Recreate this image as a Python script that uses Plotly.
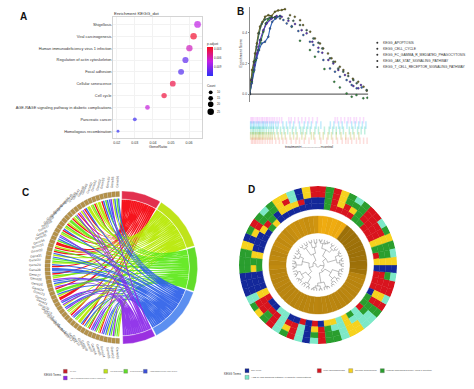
import numpy as np
import plotly.graph_objects as go

W, H = 474, 389
FONT = "Liberation Sans"

# ---------- Panel A data ----------
pathways = ["Shigellosis", "Viral carcinogenesis", "Human immunodeficiency virus 1 infection",
            "Regulation of actin cytoskeleton", "Focal adhesion", "Cellular senescence", "Cell cycle",
            "AGE-RAGE signaling pathway in diabetic complications", "Pancreatic cancer",
            "Homologous recombination"]
gene_ratio = [0.0647, 0.0625, 0.0602, 0.058, 0.0556, 0.051, 0.0462, 0.037, 0.03, 0.0207]
p_adjust = [0.0072, 0.003, 0.0062, 0.0102, 0.0106, 0.0035, 0.0033, 0.0069, 0.0112, 0.0116]
counts = [26, 25, 24, 23, 22, 21, 19, 15, 10, 5]
count_legend = [10, 15, 20, 25]
p_ticks = [0.003, 0.006, 0.009]
ratio_ticks = [0.02, 0.03, 0.04, 0.05, 0.06]

# ---------- Panel B data ----------
gsea_names = ["KEGG_APOPTOSIS", "KEGG_CELL_CYCLE", "KEGG_FC_GAMMA_R_MEDIATED_PHAGOCYTOSIS",
              "KEGG_JAK_STAT_SIGNALING_PATHWAY", "KEGG_T_CELL_RECEPTOR_SIGNALING_PATHWAY"]
rank_1 = [0, 1, 2, 3.4, 4.5, 6, 7.3, 8.7, 10.7, 13, 15.7, 18.5, 21.3, 24, 27, 29.8, 34, 38, 42.5, 45, 51, 55, 59.3, 62, 66, 69, 72, 76, 79, 83, 87, 91.5, 96, 98.7]
es_1 = [0.004, 0.09, 0.157, 0.21, 0.265, 0.33, 0.396, 0.44, 0.47, 0.505, 0.515, 0.51, 0.537, 0.546, 0.548, 0.554, 0.515, 0.504, 0.482, 0.45, 0.407, 0.363, 0.33, 0.298, 0.265, 0.233, 0.211, 0.178, 0.157, 0.135, 0.1, 0.08, 0.048, 0.022]
rank_2 = [0, 1.7, 3.1, 5, 7.3, 9.6, 11.5, 13.5, 15.7, 18.5, 21.3, 25.6, 35.4, 42.4, 50.8, 55, 63, 71.3, 76, 81.7, 86, 90, 95.8, 99.2]
es_2 = [0, 0.08, 0.146, 0.22, 0.287, 0.352, 0.407, 0.46, 0.487, 0.5, 0.5, 0.509, 0.439, 0.348, 0.287, 0.244, 0.163, 0.08, 0.043, 0.004, -0.017, -0.007, -0.028, -0.024]
rank_3 = [0, 1.7, 3.9, 5.9, 7.9, 10.1, 12.9, 15.7, 17.1, 19, 21.9, 25.6, 28.4, 31.2, 35.4, 41, 45.2, 50.8, 53.7, 57.9, 62.1, 67.7, 71.9, 76.1, 81.7, 86, 90.2, 94.4]
es_3 = [0, 0.07, 0.157, 0.233, 0.287, 0.33, 0.341, 0.374, 0.428, 0.472, 0.493, 0.509, 0.483, 0.461, 0.443, 0.411, 0.385, 0.341, 0.32, 0.276, 0.222, 0.167, 0.146, 0.113, 0.091, 0.059, 0.037, 0.043]
rank_4 = [0, 1.7, 3.9, 6.2, 8.7, 11.5, 14.3, 18.5, 22.7, 27, 32.6, 38.2, 43.8, 48, 52.8, 57.9, 61.2, 66.3, 70.5, 74.7, 80.3, 84.6, 87.4, 91.6, 93.8]
es_4 = [0, 0.091, 0.189, 0.265, 0.352, 0.417, 0.461, 0.493, 0.509, 0.504, 0.478, 0.457, 0.417, 0.396, 0.341, 0.302, 0.27, 0.222, 0.2, 0.157, 0.124, 0.08, 0.052, 0.037, 0.059]
rank_5 = [0, 1.7, 3.9, 5.9, 7.9, 10.1, 12.9, 17.1, 21.3, 25.6, 32.6, 36.8, 42.4, 48, 53.7, 57.9, 61.2, 67.7, 70.5, 74.7, 78.9, 83.1, 87.4, 90.2, 98.6]
es_5 = [0, 0.102, 0.211, 0.309, 0.396, 0.457, 0.487, 0.5, 0.5, 0.493, 0.493, 0.478, 0.45, 0.417, 0.363, 0.335, 0.298, 0.233, 0.211, 0.167, 0.146, 0.117, 0.091, 0.07, 0.026]
gsea_peak_index = [15, 11, 11, 8, 8]
gsea_colors = ["#6e6a24", "#2f8f3c", "#2f62b8", "#5a30c0", "#3e6a5a"]
rug_colors = ["231,107,243", "0,176,246", "0,191,125", "163,165,0", "248,118,109"]
hits_1 = [1, 2, 3, 4.5, 6, 7, 8.5, 10, 11, 12.5, 14, 15, 16.5, 18, 19.5, 21, 23, 25, 27, 33, 35, 38, 41, 44, 47, 50, 53, 57, 72, 74, 77, 80, 83, 85, 88, 90, 93, 96]
hits_2 = [0.5, 1.5, 3, 4, 5.5, 7, 8, 9.5, 11, 12, 13.5, 15, 17, 18.5, 20, 22, 24, 28, 31, 34, 37, 42, 46, 49, 52, 56, 60, 68, 71, 75, 78, 82, 86, 89, 92, 95, 98]
hits_3 = [1, 2.5, 3.5, 5, 6.5, 8, 9, 10.5, 12, 14, 16, 18, 20, 23, 26, 29, 32, 36, 39, 43, 45, 48, 51, 55, 58, 63, 67, 70, 73, 76, 79, 84, 87, 91, 94, 97]
hits_4 = [0.5, 2, 3, 4.5, 5.5, 7, 8, 9, 10.5, 11.5, 13, 14.5, 16, 17.5, 19, 21, 24, 27, 30, 34, 37, 40, 44, 47, 52, 54, 59, 62, 66, 69, 73, 77, 81, 85, 88, 92]
hits_5 = [1.5, 2.5, 4, 5, 6.5, 8, 9.5, 11, 13, 15, 17, 19, 22, 25, 28, 31, 35, 39, 42, 46, 50, 55, 60, 65, 70, 74, 78, 81, 83, 86, 90, 93, 96, 99]

# ---------- Panel C data ----------
term_names = ["Cell cycle", "Viral carcinogenesis", "Cellular senescence",
              "Human immunodeficiency virus 1 infection",
              "AGE-RAGE signaling pathway in diabetic complications"]
term_keys = ["R", "L", "G", "B", "P"]
term_fill = ["rgba(244,0,10,0.92)", "rgba(182,232,0,0.92)", "rgba(92,232,24,0.92)", "rgba(44,96,232,0.92)", "rgba(138,40,232,0.92)"]
term_band = ["#e2304e", "#bfe31a", "#62dc2a", "#5c8ff0", "#9a30e0"]
gene_terms = ["LG", "GP", "GB", "LB", "BP", "RL", "GP", "BP", "RG", "LB", "RB", "L", "LG", "BP", "RL", "LG",
              "PB", "LP", "BP", "R", "LB", "G", "RP", "LB", "BP", "LG", "RB", "B", "RB", "LG", "GB", "LB",
              "RG", "RL", "R", "GB", "BP", "LG", "RB", "LG", "RL", "G", "RL", "GP", "RP", "LP", "RB", "L",
              "LG", "RL", "L", "RB", "GB", "BP", "LB", "GB"]
gene_labels = ["Gene%02d" % (i + 1) for i in range(len(gene_terms))]

# ---------- Panel D data ----------
ring_cells = ["RRBB", "GGGG", "RRRR", "YYYR", "GGRR", "AGYR", "GGGG", "RRRG", "RRRR", "ARRR",
              "GRRR", "YYYY", "GGGG", "AGGR", "YYYY", "BBBB", "AGRR", "RRRR", "RRRR", "AYYB",
              "RRRG", "GGGG", "AAGR", "AAAA", "YYAG", "YYYY", "AAAA", "GGAY", "GGGY", "RRRB",
              "AGYR", "BBBB", "AAAR", "RRRB", "GYRB", "AAAA", "RRRA", "GGRB", "YRRB", "GRRR",
              "AAYY", "BBBB", "BBBB", "BBBB", "GGYG", "GGGG", "GGYY", "YYBB", "BBBB", "GYBB",
              "RRYB", "GGRG", "AGGY", "GGBB", "YYYB", "YRYB", "AAYB", "BBRB", "YYBB", "RRBB"]
cell_colors = {"R": "#d8141e", "B": "#14289a", "Y": "#f6d21e", "G": "#2a9e2e", "A": "#7de8c8"}
gold_values = [0.95, 1, 0.95, 1, 0.95, 1, 0, 0.05, 0, 0.05, 0, 0.05, 0, 0.05, 0, 0.05, 0.1, 0.45, 0.5, 0.45,
               0.5, 0.45, 0.5, 0.45, 0.5, 0.45, 0.5, 0.45, 0.5, 0.45, 0.5, 0.45, 0.5, 0.45, 0.5, 0.45, 0.5, 0.45, 0.5, 0.45,
               0.5, 0.45, 0.5, 0.45, 0.55, 0.5, 0.55, 0.5, 0.55, 0.6, 0.55, 0.6, 0.55, 0.6, 0.65, 0.6, 0.65, 0.6, 0.65, 0.7]
c1 = [17, [22, [24, 0, 1], [23, 2, [24.5, 3, 4]]], [21, [24, 5, 6], [23, 7, 8]]]
c2 = [19, [23, [24.5, 9, 10], 11], [22, [24, 12, 13], [23.5, 14, 15]]]
c3 = [15, [22, [24, 16, 17], [23, 18, 19]], [20, [23.5, 20, 21], [22.5, 22, [24.5, 23, 24]]]]
c4 = [18, [23, [24, 25, 26], 27], [21, [24, 28, 29], [23, 30, [24.5, 31, 32]]]]
c5 = [14, [21, [24, 33, 34], [23, 35, 36]], [19, [23, 37, [24, 38, 39]], [22, [24, 40, 41], 42]]]
c6 = [16, [22, [24, 43, 44], [23, 45, 46]], [20, [24, 47, 48], [23, 49, [24.5, 50, 51]]]]
c7 = [12, [21, [24, 52, 53], [23, 54, 55]], [18, [23.5, 56, 57], [22, 58, 59]]]
dendro = [2, [6, [10, c1, c2], [8, c3, c4]], [5, [9, c5, c6], c7]]

# ---------- helpers ----------
def px(x): return x / W
def py(y): return 1 - y / H
def dom_x(a, b): return [px(a), px(b)]
def dom_y(top, bottom): return [py(bottom), py(top)]

annotations, shapes = [], []
def label(x, y, text, size, color="#333", anchor="left", angle=0, xref="paper", yref="paper", conv=True):
    annotations.append(dict(x=px(x) if conv else x, y=py(y) if conv else y, xref=xref, yref=yref, text=text,
                            showarrow=False, xanchor=anchor, yanchor="middle", textangle=angle,
                            font=dict(family=FONT, size=size, color=color), borderpad=0, borderwidth=0))
def swatch(x, y, s, color, line="#555"):
    shapes.append(dict(type="rect", xref="paper", yref="paper", x0=px(x - s / 2), x1=px(x + s / 2), y0=py(y + s / 2), y1=py(y - s / 2),
                       fillcolor=color, line=dict(color=line, width=0.3)))
def dot(x, y, d, color):
    shapes.append(dict(type="circle", xref="paper", yref="paper", x0=px(x - d / 2), x1=px(x + d / 2), y0=py(y + d / 2), y1=py(y - d / 2),
                       fillcolor=color, line=dict(width=0)))
def size_of(c): return 2 + 0.18 * c

fig = go.Figure()

# ---------- Panel A ----------
fig.add_trace(go.Scatter(x=gene_ratio, y=pathways, mode="markers", hoverinfo="skip", showlegend=False,
                         marker=dict(size=[size_of(c) for c in counts], color=[-p for p in p_adjust], coloraxis="coloraxis", line=dict(width=0))))
label(114, 13.5, "Enrichment KEGG_dot", 4.4)
label(158, 147, "GeneRatio", 3.8, anchor="center")
label(207, 43.5, "p.adjust", 3.2)
label(207, 85.5, "Count", 3.2)
legend_y = [92.3, 98.3, 104.3, 111.7]
for c, y in zip(count_legend, legend_y):
    dot(210.7, y, size_of(c), "#000")
    label(217, y, str(c), 2.8)

# ---------- Panel B ----------
series = [(rank_1, es_1), (rank_2, es_2), (rank_3, es_3), (rank_4, es_4), (rank_5, es_5)]
for (r, e), col, k in zip(series, gsea_colors, gsea_peak_index):
    fig.add_trace(go.Scatter(x=r[:k + 1], y=e[:k + 1], mode="lines", xaxis="x2", yaxis="y2", hoverinfo="skip", showlegend=False,
                             line=dict(color=col, width=1.1)))
fig.add_trace(go.Scatter(x=[0, 100], y=[0, 0], mode="lines", xaxis="x2", yaxis="y2", hoverinfo="skip", showlegend=False,
                         line=dict(color="#6a6a6a", width=1.3)))
for (r, e), col in zip(series, gsea_colors):
    fig.add_trace(go.Scatter(x=r, y=e, mode="markers", xaxis="x2", yaxis="y2", hoverinfo="skip", showlegend=False,
                             marker=dict(color=col, size=2.0, line=dict(width=0.3, color="#222"))))
for i, (hits, col) in enumerate(zip([hits_1, hits_2, hits_3, hits_4, hits_5], rug_colors)):
    fig.add_trace(go.Scatter(x=hits, y=[i] * len(hits), mode="markers", xaxis="x3", yaxis="y3", hoverinfo="skip", showlegend=False,
                             marker=dict(symbol="line-ns", size=5.6, line=dict(color="rgba(%s,0.24)" % col, width=1.5))))
label(309, 147, "treatment&lt;----------------&gt;control", 3.5, color="#222", anchor="center")
label(240.5, 53, "Enrichment Score", 3.6, anchor="center", angle=-90)
for name, y in zip(gsea_names, [42.7, 48.7, 54.7, 61, 67]):
    dot(377.3, y, 2.0, "#333")
    label(382.5, y, name, 3.35)

# ---------- Panel C ----------
def pol(theta_deg, r):
    t = np.radians(theta_deg)
    return r * np.sin(t), r * np.cos(t)

n_genes = len(gene_terms)
term_counts = [sum(k in g for g in gene_terms) for k in term_keys]
span_total, gap = 178.0, 1.0
per_link = (span_total - gap * 4) / sum(term_counts)
term_start, a = [], 0.6
for c in term_counts:
    term_start.append(a)
    a += c * per_link + gap

gene_start, gene_step = 181.0, 178.0 / n_genes
def gene_theta(i): return gene_start + gene_step * (i + 0.5)

R_RIB_T, R_RIB_G = 68.0, 69.0
def ribbon(t0, t1, g0, g1):
    u = np.linspace(0, 1, 24)
    def arc(a0, a1, r):
        return pol(np.linspace(a0, a1, 5), r)
    def bez(p0, p1):
        return (1 - u) ** 2 * p0[0] + u ** 2 * p1[0], (1 - u) ** 2 * p0[1] + u ** 2 * p1[1]
    ax, ay = arc(t0, t1, R_RIB_T)
    bx, by = bez(pol(t1, R_RIB_T), pol(g0, R_RIB_G))
    cx, cy = arc(g0, g1, R_RIB_G)
    dx, dy = bez(pol(g1, R_RIB_G), pol(t0, R_RIB_T))
    return list(ax) + list(bx) + list(cx) + list(dx) + [None], list(ay) + list(by) + list(cy) + list(dy) + [None]

for ti, key in enumerate(term_keys):
    members = [i for i, g in enumerate(gene_terms) if key in g][::-1]
    X, Y = [], []
    for j, gi in enumerate(members):
        t0 = term_start[ti] + j * per_link
        t1 = t0 + per_link * 0.96
        g = gene_terms[gi]
        w = gene_step * 0.86 / len(g)
        s = gene_theta(gi) - gene_step * 0.43 + g.index(key) * w
        x, y = ribbon(t0, t1, s, s + w * 0.92)
        X += x
        Y += y
    fig.add_trace(go.Scatter(x=X, y=Y, mode="lines", fill="toself", fillcolor=term_fill[ti], line=dict(width=0),
                             xaxis="x4", yaxis="y4", hoverinfo="skip", showlegend=False))
    t_a = np.linspace(term_start[ti], term_start[ti] + term_counts[ti] * per_link, 40)
    xo, yo = pol(t_a, 76.6)
    xi, yi = pol(t_a[::-1], 68.5)
    fig.add_trace(go.Scatter(x=list(xo) + list(xi) + [xo[0]], y=list(yo) + list(yi) + [yo[0]], mode="lines", fill="toself",
                             fillcolor=term_band[ti], line=dict(width=0.3, color="#ffffff"),
                             xaxis="x4", yaxis="y4", hoverinfo="skip", showlegend=False))
bx, by = [], []
for i in range(n_genes):
    c = gene_theta(i)
    th = np.array([c - gene_step * 0.42, c + gene_step * 0.42, c + gene_step * 0.42, c - gene_step * 0.42, c - gene_step * 0.42])
    rr = np.array([71, 71, 76, 76, 71.0])
    x, y = pol(th, rr)
    bx += list(x) + [None]
    by += list(y) + [None]
fig.add_trace(go.Scatter(x=bx, y=by, mode="lines", fill="toself", fillcolor="#b5924a", line=dict(width=0.3, color="#8a6c30"),
                         xaxis="x4", yaxis="y4", hoverinfo="skip", showlegend=False))
for i, name in enumerate(gene_labels):
    th = gene_theta(i)
    x, y = pol(th, 86)
    label(float(x), float(y), name, 3.3, color="#555", anchor="center", angle=270 - th, xref="x4", yref="y4", conv=False)

label(44, 375, "KEGG Terms", 2.9, color="#333")
for name, col, x, y in zip(term_names, ["#c81e28", "#bfe31a", "#62dc2a", "#3c50d8", "#8a28e8"],
                           [65.3, 105.7, 125.7, 145.3, 65.3], [371.3, 371.3, 371.3, 371.3, 378]):
    swatch(x, y, 3.8, col)
    label(x + 4.2, y, name, 1.45, color="#555")

# ---------- Panel D ----------
n_sec = len(ring_cells)
sec_w = 360.0 / n_sec
row_h = (79.0 - 56.0) / 4
for key, col in cell_colors.items():
    th, base = [], []
    for i, cells in enumerate(ring_cells):
        for row, ch in enumerate(cells):  # row 0 is the outermost
            if ch == key:
                th.append((i + 0.5) * sec_w)
                base.append(79.0 - (row + 1) * row_h)
    fig.add_trace(go.Barpolar(theta=th, r=[row_h] * len(th), base=base, width=[sec_w] * len(th),
                              marker=dict(color=col, line=dict(width=0.35, color=col)), hoverinfo="skip", showlegend=False))
gold_scale = [[0, "#9c7009"], [0.5, "#bb8610"], [1, "#f0ac10"]]
def gold_hex(v):
    stops = [(0x9c, 0x70, 0x09), (0xbb, 0x86, 0x10), (0xf0, 0xac, 0x10)]
    i = 0 if v < 0.5 else 1
    f = (v - 0.5 * i) / 0.5
    return "rgb(%d,%d,%d)" % tuple(stops[i][k] + f * (stops[i + 1][k] - stops[i][k]) for k in range(3))
fig.add_trace(go.Barpolar(theta=[(i + 0.5) * sec_w for i in range(n_sec)], r=[17.0] * n_sec, base=[32.0] * n_sec,
                          width=[sec_w] * n_sec, hoverinfo="skip", showlegend=False,
                          marker=dict(color=gold_values, cmin=0, cmax=1, showscale=False, colorscale=gold_scale,
                                      line=dict(width=0.4, color=[gold_hex(v) for v in gold_values]))))
dr, dt = [], []
def walk(node):
    if isinstance(node, int):
        return (node + 0.5) * sec_w, 26.0
    h, a_, b_ = node
    ta, ra = walk(a_)
    tb, rb = walk(b_)
    dr.extend([ra, h, None]); dt.extend([ta, ta, None])
    dr.extend([rb, h, None]); dt.extend([tb, tb, None])
    arc = np.linspace(ta, tb, 12)
    dr.extend([h] * 12 + [None]); dt.extend(list(arc) + [None])
    return (ta + tb) / 2, h
walk(dendro)
fig.add_trace(go.Scatterpolar(r=dr, theta=dt, mode="lines", line=dict(color="#555555", width=0.4), hoverinfo="skip", showlegend=False))

label(224, 374, "KEGG Terms", 2.9, color="#333")
for name, col, x, y in zip(["Cell cycle", "Viral carcinogenesis", "Cellular senescence",
                            "Human immunodeficiency virus 1 infection",
                            "AGE-RAGE signaling pathway in diabetic complications"],
                           ["#14289a", "#d8141e", "#f6d21e", "#2a9e2e", "#7de8c8"],
                           [247, 319.3, 350.7, 382.3, 247], [370.7, 370.7, 370.7, 370.7, 377.3]):
    swatch(x, y, 4.0, col)
    label(x + 4.0, y, name, 2.45, color="#444")

# ---------- panel letters ----------
for t, x, y in [("A", 23, 17), ("B", 240.5, 12), ("C", 25, 192), ("D", 251, 189)]:
    label(x, y, "<b>%s</b>" % t, 10, color="#111", anchor="center")

hidden = dict(visible=False, showgrid=False, zeroline=False, fixedrange=True)
fig.update_layout(
    width=W, height=H, autosize=False, margin=dict(l=0, r=0, t=0, b=0),
    paper_bgcolor="white", plot_bgcolor="white", showlegend=False, annotations=annotations, shapes=shapes,
    xaxis=dict(domain=dom_x(113.3, 201.7), range=[0.0181, 0.067], tickvals=ratio_ticks, tickformat=".2f", ticklen=1.5, tickwidth=0.4, tickcolor="#777",
               showgrid=True, gridcolor="#f2f2f2", gridwidth=0.5, zeroline=False, showline=True, mirror=True, linecolor="#d4d4d4", linewidth=1,
               tickfont=dict(family=FONT, size=3.6, color="#333")),
    yaxis=dict(domain=dom_y(17.3, 138.3), categoryorder="array", categoryarray=pathways, range=[9.6, -0.6], ticklen=1.5, tickwidth=0.4, tickcolor="#777",
               showgrid=True, gridcolor="#f2f2f2", gridwidth=0.5, zeroline=False, showline=True, mirror=True, linecolor="#d4d4d4", linewidth=1,
               tickfont=dict(family=FONT, size=3.9, color="#333")),
    xaxis2=dict(domain=dom_x(249.7, 368.3), range=[0, 100], anchor="y2", visible=False, fixedrange=True),
    yaxis2=dict(domain=dom_y(6.7, 101.7), range=[-0.05, 0.57], anchor="x2", tickvals=[0, 0.2, 0.4], tickformat=".1f", showgrid=False, zeroline=False,
                showline=True, linecolor="#8c8c8c", linewidth=0.9, ticks="outside", ticklen=1, tickwidth=0.4, tickcolor="#888",
                tickfont=dict(family=FONT, size=3.4, color="#444")),
    xaxis3=dict(domain=dom_x(249.7, 368.3), range=[0, 100], anchor="y3", **hidden),
    yaxis3=dict(domain=dom_y(117, 144), range=[4.5, -0.5], anchor="x3", **hidden),
    xaxis4=dict(domain=dom_x(21, 221), range=[-100, 100], anchor="y4", **hidden),
    yaxis4=dict(domain=dom_y(167.5, 367.5), range=[-100, 100], anchor="x4", **hidden),
    polar=dict(domain=dict(x=dom_x(239, 397), y=dom_y(186, 344)), bgcolor="rgba(0,0,0,0)", bargap=0,
               radialaxis=dict(visible=False, range=[0, 79], showgrid=False),
               angularaxis=dict(visible=False, direction="clockwise", rotation=90, showgrid=False, thetaunit="degrees")),
    coloraxis=dict(cmin=-0.0118, cmax=-0.0025,
                   colorscale=[[0, "#2c30f4"], [0.5, "#c21fe6"], [1, "#f80f1c"]],
                   colorbar=dict(x=px(207), xanchor="left", y=py(61.5), yanchor="middle", len=29 / H, lenmode="fraction",
                                 thickness=6, thicknessmode="pixels", xpad=0, ypad=0, outlinewidth=0,
                                 tickvals=[-t for t in p_ticks], ticktext=["%.3f" % t for t in p_ticks], ticks="",
                                 tickfont=dict(family=FONT, size=2.9, color="#333"))),
)
fig.write_html("out.html", post_script="document.body.style.margin='0';", config={"displayModeBar": False})
